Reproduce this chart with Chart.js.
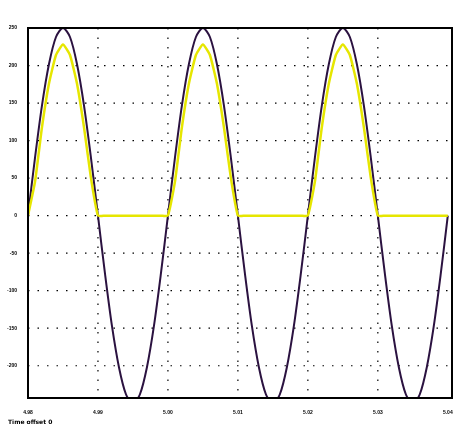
<!DOCTYPE html>
<html>
<head>
<script src="https://cdn.jsdelivr.net/npm/chart.js@4"></script>
<style>
body{margin:0;background:#fff;}
#wrap{position:relative;width:474px;height:440px;}
#note{position:absolute;left:8px;top:418px;font:bold 6px "DejaVu Sans";color:#000;}
</style>
</head>
<body>
<div id="wrap"><canvas id="c" width="474" height="440"></canvas><div id="note">Time offset 0</div></div>
<script>
// time in seconds, one sample per ms
const times = [];
for (let i = 0; i <= 60; i++) times.push(4.98 + i * 0.001);

// source voltage
const cycleSource = [0, 77, 147, 202, 238, 250, 238, 202, 147, 77, 0, -77, -147, -202, -238, -250, -238, -202, -147, -77];
// rectified output, a bit lower and cut to zero
const cycleOutput = [0, 45, 118, 176, 214, 228, 214, 176, 118, 50, 0, 0, 0, 0, 0, 0, 0, 0, 0, 0];
const source = [].concat(cycleSource, cycleSource, cycleSource, [0]);
const output = [].concat(cycleOutput, cycleOutput, cycleOutput, [0]);

const yTicks = [250, 200, 150, 100, 50, 0, -50, -100, -150, -200];
const xTicks = [4.98, 4.99, 5.0, 5.01, 5.02, 5.03, 5.04];

const pts = arr => arr.map((v, i) => ({x: times[i], y: v}));

new Chart(document.getElementById("c"), {
  type: "line",
  data: {
    datasets: [
      {data: pts(output), borderColor: "#e6e600", borderWidth: 2.5, pointRadius: 0, tension: 0.15},
      {data: pts(source), borderColor: "#2b1240", borderWidth: 2, pointRadius: 0, tension: 0.3}
    ]
  },
  options: {
    responsive: false,
    animation: false,
    layout: {padding: {left: 0, top: 28, right: 22, bottom: 26}},
    plugins: {legend: {display: false}, tooltip: {enabled: false}},
    scales: {
      x: {
        type: "linear", min: 4.98, max: 5.0406,
        afterBuildTicks: a => { a.ticks = xTicks.map(v => ({value: v})); },
        afterFit: a => { a.height = 16; },
        grid: {display: false},
        border: {color: "#000", width: 2},
        ticks: {color: "#000", font: {size: 5, weight: "bold"}, padding: 4, callback: v => v.toFixed(2)}
      },
      y: {
        min: -243, max: 250,
        afterBuildTicks: a => { a.ticks = yTicks.map(v => ({value: v})); },
        afterFit: a => { a.width = 28; },
        grid: {display: false},
        border: {color: "#000", width: 2},
        ticks: {color: "#000", font: {size: 5, weight: "bold"}, padding: 3}
      }
    }
  },
  plugins: [{
    id: "frame",
    beforeDatasetsDraw(c) {
      const a = c.chartArea, ctx = c.ctx;
      ctx.save();
      ctx.strokeStyle = "#000"; ctx.lineWidth = 1.2; ctx.setLineDash([1.5, 8]);
      xTicks.slice(1, -1).forEach(v => {
        const px = c.scales.x.getPixelForValue(v);
        ctx.beginPath(); ctx.moveTo(px, a.top); ctx.lineTo(px, a.bottom); ctx.stroke();
      });
      yTicks.slice(1).forEach(v => {
        const py = c.scales.y.getPixelForValue(v);
        ctx.beginPath(); ctx.moveTo(a.left, py); ctx.lineTo(a.right, py); ctx.stroke();
      });
      ctx.restore();
    },
    afterDraw(c) {
      const a = c.chartArea, ctx = c.ctx;
      ctx.save(); ctx.strokeStyle = "#000"; ctx.lineWidth = 2;
      ctx.strokeRect(a.left, a.top, a.right - a.left, a.bottom - a.top);
      ctx.restore();
    }
  }]
});
</script>
</body>
</html>
